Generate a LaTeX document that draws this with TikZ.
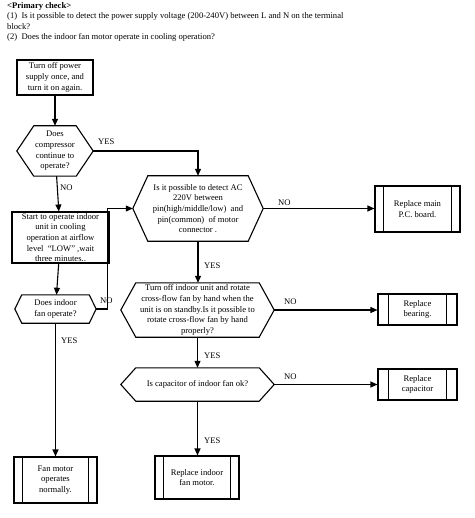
\documentclass[tikz,border=0pt]{standalone}
\usepackage{fontspec}
\setmainfont{Liberation Serif}
\usetikzlibrary{arrows.meta,calc}
\tikzset{
  txt/.style={font=\fontsize{8.6}{10.6}\selectfont, align=center, inner sep=0pt},
  boxnode/.style={txt, draw, line width=1.1pt},
  hexnode/.style={txt},
  conn/.style={line width=1.1pt, -{Triangle[length=7pt,width=6pt]}},
  lbl/.style={font=\fontsize{8.6}{10}\selectfont, inner sep=0pt},
}
\newcommand\hexdraw[2]{\draw[line width=1.1pt, line join=miter] (#1.west) -- ([xshift=#2pt]#1.north west) -- ([xshift=-#2pt]#1.north east) -- (#1.east) -- ([xshift=-#2pt]#1.south east) -- ([xshift=#2pt]#1.south west) -- cycle;}
\newcommand\procbars[2]{\draw[line width=1pt] ([xshift=#2pt]#1.north west) -- ([xshift=#2pt]#1.south west) ([xshift=-#2pt]#1.north east) -- ([xshift=-#2pt]#1.south east);}
\begin{document}
\begin{tikzpicture}[x=1pt,y=-1pt]
\useasboundingbox[fill=white] (0,0) rectangle (474,518);
% header
\node[font=\fontsize{8.6}{10.5}\selectfont, align=left, anchor=north west, inner sep=0pt] (hdr) at (7,2)
 {\textbf{<Primary check>}\\(1)\ \ Is it possible to detect the power supply voltage (200-240V) between L and N on the terminal\\block?\\(2)\ \ Does the indoor fan motor operate in cooling operation?};
% left column
\node[boxnode, minimum width=76pt, minimum height=35pt] (b1) at (55,77.5) {Turn off power\\supply once, and\\turn it on again.};
\node[hexnode, minimum width=76pt, minimum height=50pt] (h1) at (55,151) {Does\\compressor\\continue to\\operate?};
\hexdraw{h1}{17}
\node[boxnode, minimum width=97pt, minimum height=51pt] (b2) at (60.5,237.5) {Start to operate indoor\\unit in cooling\\operation at airflow\\level \ “LOW” ,wait\\three minutes..};
\node[hexnode, minimum width=81pt, minimum height=28pt] (h4) at (55.5,309) {Does indoor\\fan operate?};
\hexdraw{h4}{7}
\node[boxnode, minimum width=83pt, minimum height=46pt] (f1) at (55.5,480) {Fan motor\\operates\\normally.};
\procbars{f1}{9}
% middle column
\node[hexnode, minimum width=130pt, minimum height=65pt] (h2) at (198,208.5) {Is it possible to detect AC\\220V between\\pin(high/middle/low)\ \ and\\pin(common)\ \ of motor\\connector .};
\hexdraw{h2}{15}
\node[hexnode, minimum width=153pt, minimum height=54pt] (h3) at (197.5,310) {Turn off indoor unit and rotate\\cross-flow fan by hand when the\\unit is on standby.Is it possible to\\rotate cross-flow fan by hand\\properly?};
\hexdraw{h3}{15}
\node[hexnode, minimum width=153pt, minimum height=33pt] (h5) at (197.5,384.5) {Is capacitor of indoor fan ok?};
\hexdraw{h5}{15}
\node[boxnode, minimum width=84pt, minimum height=43pt] (r4) at (197,477.5) {Replace indoor\\fan motor.};
\procbars{r4}{9}
% right column
\node[boxnode, minimum width=85pt, minimum height=46pt] (r1) at (417.5,209) {Replace main\\P.C. board.};
\procbars{r1}{9}
\node[boxnode, minimum width=79pt, minimum height=31pt] (r2) at (417.5,309.5) {Replace\\bearing.};
\procbars{r2}{11}
\node[boxnode, minimum width=79pt, minimum height=31pt] (r3) at (417.5,384.5) {Replace\\capacitor};
\procbars{r3}{11}
% connectors
\draw[conn] (b1) -- (h1);
\draw[conn] (h1) -- (b2);
\draw[conn] (b2) -- (h4);
\draw[conn] (h4) -- (f1);
\draw[conn] (h1.east) -| (h2.north);
\draw[conn] (h4.east) -- ++(11,0) |- (h2.west);
\draw[conn] (h2.east) -- (r1.west |- h2.east);
\draw[conn] (h2.south) -- (h3.north -| h2.south);
\draw[conn] (h3.east) -- (r2.west |- h3.east);
\draw[conn] (h3.south) -- (h5.north);
\draw[conn] (h5.east) -- (r3.west |- h5.east);
\draw[conn] (h5.south) -- (r4.north -| h5.south);
% labels
\node[lbl, anchor=west] (l1) at (98,142) {YES};
\node[lbl, anchor=west] (l2) at (60,187.5) {NO};
\node[lbl, anchor=west] (l3) at (278,203) {NO};
\node[lbl, anchor=west] (l4) at (204,266) {YES};
\node[lbl, anchor=west] (l5) at (100,301) {NO};
\node[lbl, anchor=west] (l6) at (61,341) {YES};
\node[lbl, anchor=west] (l7) at (284,302) {NO};
\node[lbl, anchor=west] (l8) at (204,356) {YES};
\node[lbl, anchor=west] (l9) at (284,377) {NO};
\node[lbl, anchor=west] (l10) at (204,441) {YES};
\end{tikzpicture}
\end{document}
